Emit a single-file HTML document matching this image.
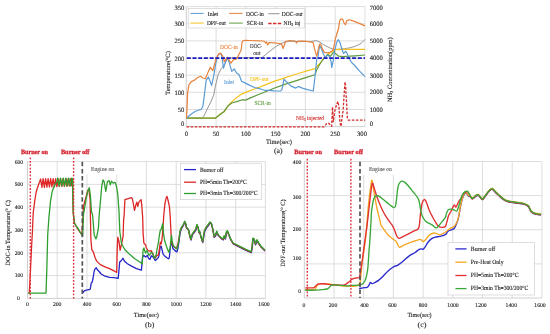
<!DOCTYPE html>
<html><head><meta charset="utf-8"><style>
html,body{margin:0;padding:0;background:#fff;}
svg{display:block;}
text{font-family:"Liberation Serif","Times New Roman",serif;text-rendering:geometricPrecision;stroke-width:0.12px;paint-order:stroke;}
text[font-weight=bold]{stroke-width:0.3px;}
</style></head><body>
<svg width="550" height="334" viewBox="0 0 550 334">
<rect width="550" height="334" fill="#fff"/>
<line x1="186.3" y1="109.5" x2="365.0" y2="109.5" stroke="#d0d0d0" stroke-width="0.7"/>
<line x1="186.3" y1="92.3" x2="365.0" y2="92.3" stroke="#d0d0d0" stroke-width="0.7"/>
<line x1="186.3" y1="75.2" x2="365.0" y2="75.2" stroke="#d0d0d0" stroke-width="0.7"/>
<line x1="186.3" y1="58.0" x2="365.0" y2="58.0" stroke="#d0d0d0" stroke-width="0.7"/>
<line x1="186.3" y1="40.9" x2="365.0" y2="40.9" stroke="#d0d0d0" stroke-width="0.7"/>
<line x1="186.3" y1="23.7" x2="365.0" y2="23.7" stroke="#d0d0d0" stroke-width="0.7"/>
<line x1="186.3" y1="6.6" x2="365.0" y2="6.6" stroke="#d0d0d0" stroke-width="0.7"/>
<line x1="216.1" y1="6.6" x2="216.1" y2="126.6" stroke="#d0d0d0" stroke-width="0.7"/>
<line x1="245.9" y1="6.6" x2="245.9" y2="126.6" stroke="#d0d0d0" stroke-width="0.7"/>
<line x1="275.6" y1="6.6" x2="275.6" y2="126.6" stroke="#d0d0d0" stroke-width="0.7"/>
<line x1="305.4" y1="6.6" x2="305.4" y2="126.6" stroke="#d0d0d0" stroke-width="0.7"/>
<line x1="335.2" y1="6.6" x2="335.2" y2="126.6" stroke="#d0d0d0" stroke-width="0.7"/>
<line x1="365.0" y1="6.6" x2="365.0" y2="126.6" stroke="#d0d0d0" stroke-width="0.7"/>
<line x1="186.3" y1="6.6" x2="186.3" y2="126.6" stroke="#c4c4c4" stroke-width="0.8"/>
<line x1="186.3" y1="126.6" x2="365.0" y2="126.6" stroke="#c4c4c4" stroke-width="0.8"/>
<text x="184.4" y="126.15" font-size="6.6" fill="#222" stroke="#222" text-anchor="end">0</text>
<text x="184.4" y="112.05" font-size="6.6" fill="#222" stroke="#222" text-anchor="end">50</text>
<text x="184.4" y="94.95" font-size="6.6" fill="#222" stroke="#222" text-anchor="end">100</text>
<text x="184.4" y="78.15" font-size="6.6" fill="#222" stroke="#222" text-anchor="end">150</text>
<text x="184.4" y="60.95" font-size="6.6" fill="#222" stroke="#222" text-anchor="end">200</text>
<text x="184.4" y="43.15" font-size="6.6" fill="#222" stroke="#222" text-anchor="end">250</text>
<text x="184.4" y="25.95" font-size="6.6" fill="#222" stroke="#222" text-anchor="end">300</text>
<text x="184.4" y="10.15" font-size="6.6" fill="#222" stroke="#222" text-anchor="end">350</text>
<text x="369.7" y="10.15" font-size="6.6" fill="#222" stroke="#222" text-anchor="start">7000</text>
<text x="369.7" y="25.55" font-size="6.6" fill="#222" stroke="#222" text-anchor="start">6000</text>
<text x="369.7" y="42.85" font-size="6.6" fill="#222" stroke="#222" text-anchor="start">5000</text>
<text x="369.7" y="60.15" font-size="6.6" fill="#222" stroke="#222" text-anchor="start">4000</text>
<text x="369.7" y="77.55" font-size="6.6" fill="#222" stroke="#222" text-anchor="start">3000</text>
<text x="369.7" y="93.75" font-size="6.6" fill="#222" stroke="#222" text-anchor="start">2000</text>
<text x="369.7" y="111.75" font-size="6.6" fill="#222" stroke="#222" text-anchor="start">1000</text>
<text x="369.7" y="125.75" font-size="6.6" fill="#222" stroke="#222" text-anchor="start">0</text>
<text x="186.3" y="136.0" font-size="6.6" fill="#222" stroke="#222" text-anchor="middle">0</text>
<text x="216.1" y="136.0" font-size="6.6" fill="#222" stroke="#222" text-anchor="middle">50</text>
<text x="245.9" y="136.0" font-size="6.6" fill="#222" stroke="#222" text-anchor="middle">100</text>
<text x="275.6" y="136.0" font-size="6.6" fill="#222" stroke="#222" text-anchor="middle">150</text>
<text x="305.4" y="136.0" font-size="6.6" fill="#222" stroke="#222" text-anchor="middle">200</text>
<text x="335.2" y="136.0" font-size="6.6" fill="#222" stroke="#222" text-anchor="middle">250</text>
<text x="362.0" y="136.0" font-size="6.6" fill="#222" stroke="#222" text-anchor="middle">300</text>
<text x="266.1" y="143.5" font-size="6.8" fill="#222" stroke="#222" text-anchor="start" textLength="25.8" lengthAdjust="spacingAndGlyphs">Time(sec)</text>
<text x="274.0" y="152.6" font-size="7.4" fill="#222" stroke="#222" text-anchor="start" textLength="8.6" lengthAdjust="spacingAndGlyphs">(a)</text>
<text x="0" y="0" font-size="6.45" fill="#222" stroke="#222" text-anchor="start" textLength="43.6" lengthAdjust="spacingAndGlyphs" transform="translate(170.0,94.8) rotate(-90)">Temperature(°C)</text>
<text x="0" y="0" font-size="6.45" fill="#222" stroke="#222" textLength="64.8" lengthAdjust="spacingAndGlyphs" transform="translate(391.6,102.1) rotate(-90)">NH<tspan font-size="4.5" dy="1.3">3</tspan><tspan dy="-1.3"> Concentration(ppm)</tspan></text>
<polyline points="186.5,118.2 201.5,117.9 203.6,116.6 205.2,113.5 206.9,109.8 209.0,105.5 211.0,101.7 213.7,95.0 215.0,88.0 216.1,83.3 218.0,75.0 221.0,69.0 224.0,65.0 227.0,59.5 228.5,58.2 230.9,58.0 262.0,57.5 266.2,54.1 270.0,51.0 276.0,46.5 280.0,44.0 285.0,42.0 290.0,41.2 299.1,41.6 310.8,41.5 316.6,40.6 320.0,42.3 324.2,45.1 329.2,47.6 333.4,49.2 337.5,49.3 344.2,48.8 350.9,47.6 355.9,46.0 361.0,43.5 365.0,39.3" fill="none" stroke="#8c8c8c" stroke-width="0.9" stroke-linejoin="round" stroke-linecap="butt"/>
<polyline points="186.5,118.2 215.7,118.1 220.4,113.8 224.4,111.8 227.1,107.4 230.8,102.7 236.2,97.9 241.6,94.1 248.0,91.4 254.5,89.0 261.0,86.6 267.5,83.9 274.0,81.4 284.0,78.1 294.1,74.7 304.1,71.7 315.0,68.7 318.3,65.0 320.2,63.3 323.4,58.9 327.8,54.5 332.2,51.3 335.4,49.6 344.2,49.4 365.0,49.4" fill="none" stroke="#f5c21b" stroke-width="1.2" stroke-linejoin="round" stroke-linecap="butt"/>
<polyline points="186.5,118.2 215.3,118.2 220.2,114.5 224.3,111.2 227.6,106.3 231.7,103.0 238.3,101.1 242.4,99.7 245.7,100.1 249.8,98.1 258.0,94.8 266.2,91.5 274.0,88.2 284.0,84.6 294.1,81.4 304.1,78.1 315.0,74.7 316.6,70.0 320.8,62.5 324.5,57.8 327.8,54.5 330.5,56.2 333.8,51.8 336.0,54.0 338.7,56.2 343.1,56.7 349.6,56.2 355.1,55.8 365.0,55.0" fill="none" stroke="#5e9a3e" stroke-width="1.2" stroke-linejoin="round" stroke-linecap="butt"/>
<polyline points="186.5,118.2 190.6,114.5 195.5,111.2 201.3,109.3 202.9,106.3 204.6,93.2 206.2,80.4 208.3,77.1 209.5,79.6 211.6,85.4 213.6,76.3 216.0,62.3 217.7,55.8 219.4,53.6 221.5,54.1 223.5,68.1 225.1,63.2 227.1,57.4 229.2,62.3 231.7,71.4 234.2,68.9 236.6,73.0 239.1,74.7 241.6,81.2 244.9,82.9 249.8,85.4 254.7,87.5 259.7,88.7 264.6,90.3 269.5,90.3 274.0,90.8 280.7,91.0 282.0,89.3 284.0,79.2 286.5,81.8 290.7,85.9 295.7,88.1 298.2,86.4 302.4,88.1 307.4,89.6 313.3,91.0 315.0,76.7 316.6,60.0 318.0,56.2 319.6,45.3 321.3,48.5 323.4,54.0 325.1,57.3 327.8,55.1 329.4,56.7 331.1,61.6 331.7,67.5 333.4,60.0 334.4,51.8 336.5,43.1 338.2,39.6 339.8,42.0 342.0,49.6 343.6,53.4 345.8,51.3 346.9,52.9 349.1,58.4 351.8,62.7 354.3,65.0 359.3,70.9 364.3,75.9 365.0,76.5" fill="none" stroke="#5b9bd5" stroke-width="1.2" stroke-linejoin="round" stroke-linecap="butt"/>
<polyline points="186.5,118.2 187.0,109.6 187.6,93.2 188.9,84.9 191.4,81.6 194.7,80.0 197.0,78.0 200.4,76.3 202.9,78.0 205.4,78.8 207.0,74.7 210.3,67.3 212.8,70.6 216.0,59.0 218.5,54.1 220.5,53.0 222.7,55.8 224.3,61.5 227.6,57.4 230.9,63.2 233.3,59.9 236.6,59.0 239.1,54.1 241.2,50.0 241.9,43.0 243.0,40.8 244.6,40.3 250.0,40.5 263.0,41.0 264.5,41.5 265.5,43.0 266.5,42.0 267.8,45.0 269.0,42.5 274.0,42.8 280.0,43.5 282.0,45.0 283.0,48.5 284.0,46.0 285.5,41.5 290.0,40.5 295.0,41.0 296.5,43.0 298.0,41.0 305.0,41.2 313.1,42.5 314.2,47.4 315.8,53.4 316.9,56.2 318.2,49.6 319.6,44.2 320.7,44.2 322.4,49.1 324.5,52.4 327.8,52.9 331.1,51.8 333.3,49.6 334.4,44.2 335.4,38.7 337.1,33.3 338.7,28.0 339.5,21.5 340.6,19.2 342.6,19.2 344.2,23.4 345.6,24.7 346.7,20.9 349.3,19.7 354.3,21.4 359.3,23.4 365.0,25.9" fill="none" stroke="#e8823a" stroke-width="1.2" stroke-linejoin="round" stroke-linecap="butt"/>
<polyline points="186.5,126.9 324.0,126.9 325.0,125.6 327.0,123.2 328.6,123.2 330.1,124.8 331.7,126.4 332.5,106.9 333.3,121.7 334.8,110.8 336.4,105.3 337.9,101.4 339.0,107.6 340.0,123.2 341.1,126.4 341.8,119.3 343.1,110.8 344.2,93.6 345.0,81.9 345.7,87.4 346.5,101.4 347.3,117.8 348.1,120.1 365.2,120.1" fill="none" stroke="#d42a2a" stroke-width="1.3" stroke-dasharray="2.6,1.5" stroke-linejoin="round" stroke-linecap="butt"/>
<line x1="186.8" y1="58.2" x2="365.0" y2="58.2" stroke="#1c1cc0" stroke-width="1.8" stroke-dasharray="4,1.7"/>
<text x="220" y="48.6" font-size="6.2" fill="#e8823a" stroke="#e8823a" text-anchor="start" textLength="17.7" lengthAdjust="spacingAndGlyphs">DOC-in</text>
<text x="250" y="48.4" font-size="6.2" fill="#333" stroke="#333" text-anchor="start" textLength="12.3" lengthAdjust="spacingAndGlyphs">DOC-</text>
<text x="253.2" y="54.8" font-size="6.2" fill="#333" stroke="#333" text-anchor="start" textLength="7.3" lengthAdjust="spacingAndGlyphs">out</text>
<text x="224.1" y="84.0" font-size="6.2" fill="#5b9bd5" stroke="#5b9bd5" text-anchor="start" textLength="9.9" lengthAdjust="spacingAndGlyphs">Inlet</text>
<text x="250" y="81.3" font-size="6.2" fill="#f5c21b" stroke="#f5c21b" text-anchor="start" textLength="18.5" lengthAdjust="spacingAndGlyphs">DPF-out</text>
<text x="254.5" y="105.4" font-size="6.2" fill="#5e9a3e" stroke="#5e9a3e" text-anchor="start" textLength="16.2" lengthAdjust="spacingAndGlyphs">SCR-in</text>
<text x="296" y="120.2" font-size="6.2" fill="#d42a2a" stroke="#d42a2a" textLength="28" lengthAdjust="spacingAndGlyphs">NH<tspan font-size="4.4" dy="1.2">3</tspan><tspan dy="-1.2"> injected</tspan></text>
<rect x="188.2" y="8.4" width="116.0" height="19.6" fill="#fff" stroke="#c8c8c8" stroke-width="0.6"/>
<line x1="190.4" y1="13.4" x2="203.7" y2="13.4" stroke="#5b9bd5" stroke-width="1.0"/>
<text x="207.8" y="15.6" font-size="6.2" fill="#222" stroke="#222" text-anchor="start" textLength="10.4" lengthAdjust="spacingAndGlyphs">Inlet</text>
<line x1="229.1" y1="13.4" x2="242.7" y2="13.4" stroke="#e8823a" stroke-width="1.0"/>
<text x="246" y="15.6" font-size="6.2" fill="#222" stroke="#222" text-anchor="start" textLength="17.7" lengthAdjust="spacingAndGlyphs">DOC-in</text>
<line x1="268.2" y1="13.7" x2="279.5" y2="13.7" stroke="#666" stroke-width="0.7"/>
<text x="281.8" y="15.6" font-size="6.2" fill="#222" stroke="#222" text-anchor="start" textLength="20.8" lengthAdjust="spacingAndGlyphs">DOC-out</text>
<line x1="190.4" y1="23.1" x2="203.7" y2="23.1" stroke="#f5c21b" stroke-width="1.0"/>
<text x="206.9" y="25.1" font-size="6.2" fill="#222" stroke="#222" text-anchor="start" textLength="18.9" lengthAdjust="spacingAndGlyphs">DPF-out</text>
<line x1="229.1" y1="23.1" x2="242.7" y2="23.1" stroke="#5e9a3e" stroke-width="1.0"/>
<text x="246.8" y="24.8" font-size="6.2" fill="#222" stroke="#222" text-anchor="start" textLength="16.4" lengthAdjust="spacingAndGlyphs">SCR-in</text>
<line x1="268.2" y1="23.5" x2="281.2" y2="23.5" stroke="#d42a2a" stroke-width="1.3" stroke-dasharray="3.4,1.4"/>
<text x="283.5" y="24.8" font-size="6.2" fill="#222" stroke="#222" textLength="16.9" lengthAdjust="spacingAndGlyphs">NH<tspan font-size="4.4" dy="1.2">3</tspan><tspan dy="-1.2"> inj</tspan></text>
<line x1="27.5" y1="275.6" x2="265.4" y2="275.6" stroke="#d0d0d0" stroke-width="0.7"/>
<line x1="27.5" y1="252.8" x2="265.4" y2="252.8" stroke="#d0d0d0" stroke-width="0.7"/>
<line x1="27.5" y1="230.0" x2="265.4" y2="230.0" stroke="#d0d0d0" stroke-width="0.7"/>
<line x1="27.5" y1="207.2" x2="265.4" y2="207.2" stroke="#d0d0d0" stroke-width="0.7"/>
<line x1="27.5" y1="184.4" x2="265.4" y2="184.4" stroke="#d0d0d0" stroke-width="0.7"/>
<line x1="27.5" y1="161.6" x2="265.4" y2="161.6" stroke="#d0d0d0" stroke-width="0.7"/>
<line x1="57.2" y1="161.6" x2="57.2" y2="298.4" stroke="#d0d0d0" stroke-width="0.7"/>
<line x1="87.0" y1="161.6" x2="87.0" y2="298.4" stroke="#d0d0d0" stroke-width="0.7"/>
<line x1="116.7" y1="161.6" x2="116.7" y2="298.4" stroke="#d0d0d0" stroke-width="0.7"/>
<line x1="146.4" y1="161.6" x2="146.4" y2="298.4" stroke="#d0d0d0" stroke-width="0.7"/>
<line x1="176.2" y1="161.6" x2="176.2" y2="298.4" stroke="#d0d0d0" stroke-width="0.7"/>
<line x1="205.9" y1="161.6" x2="205.9" y2="298.4" stroke="#d0d0d0" stroke-width="0.7"/>
<line x1="235.7" y1="161.6" x2="235.7" y2="298.4" stroke="#d0d0d0" stroke-width="0.7"/>
<line x1="265.4" y1="161.6" x2="265.4" y2="298.4" stroke="#d0d0d0" stroke-width="0.7"/>
<line x1="27.5" y1="161.6" x2="27.5" y2="298.4" stroke="#c4c4c4" stroke-width="0.8"/>
<line x1="27.5" y1="298.4" x2="265.4" y2="298.4" stroke="#c4c4c4" stroke-width="0.8"/>
<text x="23.2" y="277.4" font-size="5.7" fill="#222" stroke="#222" text-anchor="end">100</text>
<text x="23.2" y="254.9" font-size="5.7" fill="#222" stroke="#222" text-anchor="end">200</text>
<text x="23.2" y="232.0" font-size="5.7" fill="#222" stroke="#222" text-anchor="end">300</text>
<text x="23.2" y="209.0" font-size="5.7" fill="#222" stroke="#222" text-anchor="end">400</text>
<text x="23.2" y="186.4" font-size="5.7" fill="#222" stroke="#222" text-anchor="end">500</text>
<text x="23.2" y="164.4" font-size="5.7" fill="#222" stroke="#222" text-anchor="end">600</text>
<text x="18.5" y="300.2" font-size="5.7" fill="#222" stroke="#222" text-anchor="middle">0</text>
<text x="27.5" y="306.2" font-size="5.7" fill="#222" stroke="#222" text-anchor="middle">0</text>
<text x="57.2" y="306.2" font-size="5.7" fill="#222" stroke="#222" text-anchor="middle">200</text>
<text x="87.0" y="306.2" font-size="5.7" fill="#222" stroke="#222" text-anchor="middle">400</text>
<text x="116.7" y="306.2" font-size="5.7" fill="#222" stroke="#222" text-anchor="middle">600</text>
<text x="146.4" y="306.2" font-size="5.7" fill="#222" stroke="#222" text-anchor="middle">800</text>
<text x="176.2" y="306.2" font-size="5.7" fill="#222" stroke="#222" text-anchor="middle">1000</text>
<text x="205.9" y="306.2" font-size="5.7" fill="#222" stroke="#222" text-anchor="middle">1200</text>
<text x="235.7" y="306.2" font-size="5.7" fill="#222" stroke="#222" text-anchor="middle">1400</text>
<text x="264.0" y="306.2" font-size="5.7" fill="#222" stroke="#222" text-anchor="middle">1600</text>
<text x="133.8" y="316.5" font-size="6.4" fill="#222" stroke="#222" text-anchor="start" textLength="25.1" lengthAdjust="spacingAndGlyphs">Time(sec)</text>
<text x="145.1" y="327.2" font-size="7.3" fill="#222" stroke="#222" text-anchor="start" textLength="9.2" lengthAdjust="spacingAndGlyphs">(b)</text>
<text x="0" y="0" font-size="6.4" fill="#222" stroke="#222" text-anchor="start" textLength="65.5" lengthAdjust="spacingAndGlyphs" transform="translate(9.8,265.6) rotate(-90)">DOC-in Temperature(° C)</text>
<rect x="86" y="162.0" width="31.8" height="12.6" fill="#fff"/>
<text x="91" y="170.8" font-size="6.1" fill="#5a5a5a" stroke="#5a5a5a" text-anchor="start" textLength="23.1" lengthAdjust="spacingAndGlyphs">Engine on</text>
<polyline points="82.2,293.5 84.0,291.2 86.2,290.2 89.2,289.7 90.3,289.0 91.2,283.0 92.2,282.2 93.0,278.5 94.2,271.0 95.2,268.7 96.3,267.7 97.2,269.5 98.7,271.0 101.2,274.0 105.0,276.2 109.5,277.3 114.0,277.7 118.2,278.4 118.9,271.0 119.7,262.0 121.5,260.5 123.0,258.2 124.5,261.2 127.4,263.7 131.5,266.1 136.5,268.6 141.4,270.2 142.6,257.1 143.9,255.4 145.5,257.1 147.2,255.4 148.8,258.7 150.0,259.3 151.3,255.7 152.7,256.6 154.0,258.4 155.4,260.6 156.7,259.3 158.1,257.9 159.0,255.7 160.3,246.7 161.2,246.2 162.1,249.8 163.0,253.9 164.4,255.7 166.6,257.5 168.4,258.8 169.3,257.9 170.2,248.5 171.1,242.0 172.0,244.0 172.9,248.5 174.3,249.8 175.6,251.2 177.0,251.8 177.9,248.5 178.8,243.1 180.1,232.7 181.4,228.8 183.4,225.5 184.9,222.2 186.0,224.8 186.6,228.1 188.6,230.1 189.9,236.0 191.0,240.0 192.6,234.7 194.5,232.1 195.9,230.1 197.2,225.5 198.5,228.8 198.9,232.7 199.8,232.1 201.1,237.3 202.8,242.6 203.8,236.7 204.7,231.4 206.4,228.1 208.4,225.5 210.3,222.9 211.6,224.2 213.0,230.1 214.3,237.3 215.6,236.0 216.9,232.1 218.2,235.4 219.3,236.6 221.8,239.1 223.4,239.9 224.3,236.6 225.4,239.1 226.7,232.5 227.6,231.7 229.2,235.8 230.9,239.9 233.3,244.0 236.6,245.7 241.6,248.1 246.5,250.6 251.4,252.6 252.3,247.3 253.1,239.1 254.4,239.9 255.6,244.8 257.2,240.7 258.9,244.0 261.3,247.3 263.8,249.8 265.1,251.1" fill="none" stroke="#2424c8" stroke-width="1.3" stroke-linejoin="round" stroke-linecap="butt"/>
<polyline points="28.2,293.2 29.3,293.0 30.5,270.0 31.5,248.0 32.4,232.0 33.2,213.0 34.9,199.8 36.2,192.0 37.4,188.0 38.6,184.5 39.8,181.5 40.6,179.0 41.9,187.4 43.1,178.6 44.4,187.3 45.6,178.6 46.9,187.2 48.1,178.6 49.4,187.0 50.6,178.6 51.9,186.9 53.1,178.6 54.4,186.8 55.6,178.6 56.9,186.7 58.1,178.6 59.4,186.5 60.6,178.6 61.9,186.4 63.1,178.6 64.3,186.3 65.6,178.6 66.8,186.2 68.1,178.6 69.3,186.0 70.6,178.6 71.8,185.9 73.1,178.6 72.6,182.0 73.3,213.0 74.4,222.8 76.1,226.1 77.7,228.8 80.2,232.3 81.9,234.5 82.7,222.0 83.5,206.2 86.0,197.2 87.7,190.6 88.8,189.0 90.1,199.7 90.9,239.7 91.8,249.6 93.4,252.1 95.1,257.8 96.7,261.1 100.0,264.4 104.9,266.9 109.5,268.7 115.5,271.7 116.7,272.5 117.2,250.0 117.8,237.2 119.0,241.4 120.1,250.4 121.4,244.7 123.1,236.4 123.6,220.0 124.1,216.2 124.9,199.7 127.4,198.9 131.5,197.7 132.4,198.9 133.2,203.0 134.5,210.4 135.7,205.5 136.8,202.2 137.8,206.3 138.9,202.2 140.1,200.5 141.1,199.7 141.7,204.7 142.7,217.8 143.1,233.2 143.9,243.1 145.5,244.7 146.4,248.0 148.0,250.5 150.0,251.2 151.3,250.7 152.7,253.9 154.0,256.6 155.4,257.9 156.7,255.7 158.1,255.2 159.0,252.1 160.3,242.2 161.2,244.0 162.1,238.6 162.8,230.0 163.7,216.2 164.8,204.7 166.1,198.1 167.0,196.4 168.1,200.5 169.4,206.3 170.3,218.0 171.1,235.0 172.0,244.0 173.4,246.2 175.2,247.6 176.5,248.5 177.9,244.0 178.8,239.5 179.9,232.2 181.2,228.3 183.2,225.0 184.7,221.7 185.8,224.3 186.4,227.6 188.4,229.6 189.7,235.5 190.8,239.5 192.4,234.2 194.3,231.6 195.7,229.6 197.0,225.0 198.3,228.3 198.7,232.2 199.6,231.6 200.9,236.8 202.6,242.1 203.6,236.2 204.5,230.9 206.2,227.6 208.2,225.0 210.1,222.4 211.4,223.7 212.8,229.6 214.1,236.8 215.4,235.5 216.7,231.6 218.0,234.9 219.1,236.1 221.6,238.6 223.2,239.4 224.1,236.1 225.2,238.6 226.5,232.0 227.4,231.2 229.0,235.3 230.7,239.4 233.1,243.5 236.4,245.2 241.4,247.6 246.3,250.1 251.2,252.1 252.1,246.8 252.9,238.6 254.2,239.4 255.4,244.3 257.0,240.2 258.7,243.5 261.1,246.8 263.6,249.3 264.9,250.6" fill="none" stroke="#dd2626" stroke-width="1.3" stroke-linejoin="round" stroke-linecap="butt"/>
<polyline points="28.2,293.2 46.0,293.2 46.8,270.0 47.7,235.0 48.9,217.9 50.5,201.4 52.2,191.5 54.7,184.9 57.1,181.6 57.6,178.2 59.0,186.0 60.4,178.2 61.8,186.0 63.2,178.2 64.6,186.0 66.0,178.2 67.4,186.0 68.8,178.2 70.2,186.0 71.6,178.2 73.0,186.0 72.3,178.5 72.5,182.0 73.2,213.0 74.4,222.8 76.1,226.1 77.7,227.8 80.2,232.3 81.9,234.8 82.7,236.0 83.5,214.0 84.4,209.5 86.0,199.7 87.7,191.4 89.3,187.8 90.5,196.4 91.4,211.2 92.6,215.0 94.2,234.8 95.9,238.9 96.7,237.2 98.4,228.2 99.2,215.0 100.3,203.0 101.7,186.5 103.0,179.9 104.1,181.5 105.8,191.4 107.4,181.5 109.1,180.7 110.2,184.8 111.5,181.2 113.2,183.2 115.2,182.4 116.5,186.5 117.8,194.7 119.0,211.2 119.8,231.5 121.4,243.0 122.5,245.5 124.9,249.7 129.9,254.6 134.8,258.7 139.8,262.0 142.2,263.7 143.1,249.7 143.9,248.0 145.5,253.0 147.2,250.5 148.8,255.4 150.0,254.3 151.3,252.5 152.7,253.0 154.0,257.5 154.9,258.4 156.3,253.9 157.2,248.5 158.5,241.7 159.4,235.0 160.4,229.9 161.1,229.7 162.7,223.6 163.5,233.4 164.7,240.8 165.7,244.0 167.5,249.4 168.9,252.1 170.2,247.6 171.1,237.7 171.6,235.5 172.0,240.4 173.4,245.8 175.2,247.6 177.0,248.9 178.3,244.0 179.2,238.6 179.9,231.7 181.2,227.8 183.2,224.5 184.7,221.2 185.8,223.8 186.4,227.1 188.4,229.1 189.7,235.0 190.8,239.0 192.4,233.7 194.3,231.1 195.7,229.1 197.0,224.5 198.3,227.8 198.7,231.7 199.6,231.1 200.9,236.3 202.6,241.6 203.6,235.7 204.5,230.4 206.2,227.1 208.2,224.5 210.1,221.9 211.4,223.2 212.8,229.1 214.1,236.3 215.4,235.0 216.7,231.1 218.0,234.4 219.1,235.6 221.6,238.1 223.2,238.9 224.1,235.6 225.2,238.1 226.5,231.5 227.4,230.7 229.0,234.8 230.7,238.9 233.1,243.0 236.4,244.7 241.4,247.1 246.3,249.6 251.2,251.6 252.1,246.3 252.9,238.1 254.2,238.9 255.4,243.8 257.0,239.7 258.7,243.0 261.1,246.3 263.6,248.8 264.9,250.1" fill="none" stroke="#2e9e2e" stroke-width="1.3" stroke-linejoin="round" stroke-linecap="butt"/>
<line x1="30.3" y1="157.5" x2="30.3" y2="298.4" stroke="#e0303f" stroke-width="1.4" stroke-dasharray="1.8,1.6"/>
<line x1="73.6" y1="157.5" x2="73.6" y2="298.4" stroke="#e0303f" stroke-width="1.4" stroke-dasharray="1.8,1.6"/>
<line x1="82.3" y1="161.8" x2="82.3" y2="298.4" stroke="#555" stroke-width="1.7" stroke-dasharray="4.5,2.6"/>
<text x="20.9" y="154.0" font-size="6.6" fill="#d42030" stroke="#d42030" text-anchor="start" font-weight="bold" textLength="27.1" lengthAdjust="spacingAndGlyphs">Burner on</text>
<text x="60.9" y="154.0" font-size="6.6" fill="#d42030" stroke="#d42030" text-anchor="start" font-weight="bold" textLength="28.6" lengthAdjust="spacingAndGlyphs">Burner off</text>
<rect x="180.4" y="163.2" width="81.0" height="36.5" fill="#fff" stroke="#c8c8c8" stroke-width="0.6"/>
<line x1="184" y1="169.6" x2="196" y2="169.6" stroke="#2424c8" stroke-width="1.3"/>
<text x="199.9" y="171.9" font-size="6.4" fill="#222" stroke="#222" text-anchor="start" textLength="23.6" lengthAdjust="spacingAndGlyphs">Burner off</text>
<line x1="184" y1="182.2" x2="196" y2="182.2" stroke="#dd2626" stroke-width="1.3"/>
<text x="199.9" y="184.0" font-size="6.4" fill="#222" stroke="#222" text-anchor="start" textLength="46.8" lengthAdjust="spacingAndGlyphs">PH=5min Th=200°C</text>
<line x1="184" y1="193.5" x2="196" y2="193.5" stroke="#2e9e2e" stroke-width="1.3"/>
<text x="199.9" y="195.3" font-size="6.4" fill="#222" stroke="#222" text-anchor="start" textLength="57.7" lengthAdjust="spacingAndGlyphs">PH=3min Th=300/200°C</text>
<line x1="304.3" y1="263.9" x2="541.9" y2="263.9" stroke="#d0d0d0" stroke-width="0.7"/>
<line x1="304.3" y1="229.8" x2="541.9" y2="229.8" stroke="#d0d0d0" stroke-width="0.7"/>
<line x1="304.3" y1="195.6" x2="541.9" y2="195.6" stroke="#d0d0d0" stroke-width="0.7"/>
<line x1="304.3" y1="161.5" x2="541.9" y2="161.5" stroke="#d0d0d0" stroke-width="0.7"/>
<line x1="334.0" y1="161.5" x2="334.0" y2="298.0" stroke="#d0d0d0" stroke-width="0.7"/>
<line x1="363.7" y1="161.5" x2="363.7" y2="298.0" stroke="#d0d0d0" stroke-width="0.7"/>
<line x1="393.4" y1="161.5" x2="393.4" y2="298.0" stroke="#d0d0d0" stroke-width="0.7"/>
<line x1="423.1" y1="161.5" x2="423.1" y2="298.0" stroke="#d0d0d0" stroke-width="0.7"/>
<line x1="452.8" y1="161.5" x2="452.8" y2="298.0" stroke="#d0d0d0" stroke-width="0.7"/>
<line x1="482.5" y1="161.5" x2="482.5" y2="298.0" stroke="#d0d0d0" stroke-width="0.7"/>
<line x1="512.2" y1="161.5" x2="512.2" y2="298.0" stroke="#d0d0d0" stroke-width="0.7"/>
<line x1="541.9" y1="161.5" x2="541.9" y2="298.0" stroke="#d0d0d0" stroke-width="0.7"/>
<line x1="304.3" y1="161.5" x2="304.3" y2="298.0" stroke="#c4c4c4" stroke-width="0.8"/>
<line x1="304.3" y1="298.0" x2="541.9" y2="298.0" stroke="#c4c4c4" stroke-width="0.8"/>
<text x="301.4" y="260.0" font-size="5.7" fill="#222" stroke="#222" text-anchor="end">100</text>
<text x="301.4" y="231.4" font-size="5.7" fill="#222" stroke="#222" text-anchor="end">200</text>
<text x="301.4" y="198.6" font-size="5.7" fill="#222" stroke="#222" text-anchor="end">300</text>
<text x="301.4" y="164.4" font-size="5.7" fill="#222" stroke="#222" text-anchor="end">400</text>
<text x="299.7" y="292.9" font-size="5.7" fill="#222" stroke="#222" text-anchor="middle">0</text>
<text x="304.0" y="307.1" font-size="5.7" fill="#222" stroke="#222" text-anchor="middle">0</text>
<text x="333.0" y="307.1" font-size="5.7" fill="#222" stroke="#222" text-anchor="middle">200</text>
<text x="364.4" y="307.1" font-size="5.7" fill="#222" stroke="#222" text-anchor="middle">400</text>
<text x="392.4" y="307.1" font-size="5.7" fill="#222" stroke="#222" text-anchor="middle">600</text>
<text x="423.0" y="307.1" font-size="5.7" fill="#222" stroke="#222" text-anchor="middle">800</text>
<text x="453.0" y="307.1" font-size="5.7" fill="#222" stroke="#222" text-anchor="middle">1000</text>
<text x="481.0" y="307.1" font-size="5.7" fill="#222" stroke="#222" text-anchor="middle">1200</text>
<text x="511.3" y="307.1" font-size="5.7" fill="#222" stroke="#222" text-anchor="middle">1400</text>
<text x="540.0" y="307.1" font-size="5.7" fill="#222" stroke="#222" text-anchor="middle">1600</text>
<text x="407.4" y="316.5" font-size="6.4" fill="#222" stroke="#222" text-anchor="start" textLength="24.2" lengthAdjust="spacingAndGlyphs">Time(sec)</text>
<text x="417.4" y="327.2" font-size="7.3" fill="#222" stroke="#222" text-anchor="start" textLength="9.2" lengthAdjust="spacingAndGlyphs">(c)</text>
<text x="0" y="0" font-size="6.4" fill="#222" stroke="#222" text-anchor="start" textLength="67.3" lengthAdjust="spacingAndGlyphs" transform="translate(285.0,266.7) rotate(-90)">DPF-out Temperature(° C)</text>
<rect x="362.4" y="162.0" width="32.4" height="12.8" fill="#fff"/>
<text x="368.9" y="170.9" font-size="6.1" fill="#5a5a5a" stroke="#5a5a5a" text-anchor="start" textLength="22.9" lengthAdjust="spacingAndGlyphs">Engine on</text>
<path d="M359.1,288.5 C359.8,288.4 361.6,288.0 363.0,287.8 C364.4,287.6 366.2,287.8 367.2,287.3 C368.2,286.9 368.5,285.9 369.0,285.1 C369.5,284.3 369.9,282.7 370.4,282.5 C370.9,282.3 371.4,283.6 372.0,283.7 C372.6,283.8 373.2,283.4 374.3,282.8 C375.4,282.2 377.0,281.5 378.5,280.4 C380.0,279.3 381.7,277.6 383.3,276.0 C384.9,274.4 386.5,272.5 388.1,271.0 C389.7,269.5 391.7,268.0 392.9,267.2 C394.1,266.4 394.7,266.3 395.5,266.0 C396.3,265.7 396.8,265.8 397.5,265.4 C398.2,265.0 399.2,264.2 400.0,263.6 C400.8,263.0 401.7,262.5 402.5,261.8 C403.3,261.1 403.7,260.7 404.9,259.6 C406.1,258.5 408.2,256.6 409.9,255.4 C411.5,254.2 413.3,253.7 414.8,252.7 C416.3,251.7 417.8,250.2 418.9,249.6 C420.0,248.9 420.7,248.9 421.4,248.8 C422.1,248.8 422.4,249.7 423.1,249.3 C423.8,248.9 424.7,247.5 425.5,246.3 C426.3,245.1 427.0,243.4 428.0,242.2 C429.0,241.0 430.1,239.7 431.3,238.9 C432.5,238.1 434.0,237.6 435.4,237.2 C436.8,236.8 438.3,236.7 439.5,236.4 C440.7,236.1 441.7,236.0 442.8,235.6 C443.9,235.2 445.3,234.6 446.1,233.9 C446.9,233.2 447.1,232.1 447.8,231.5 C448.5,230.9 449.4,230.5 450.2,230.2 C451.0,229.8 451.8,229.8 452.5,229.4 C453.2,229.0 453.9,228.9 454.6,227.8 C455.3,226.7 456.2,224.6 456.9,222.8 C457.6,221.0 458.1,219.3 458.6,217.1 C459.1,214.9 459.5,212.0 459.9,209.7 C460.3,207.4 460.7,205.2 461.2,203.1 C461.7,201.0 462.3,198.9 462.9,197.3 C463.5,195.7 464.2,194.2 464.8,193.5 C465.4,192.8 465.9,192.8 466.5,193.2 C467.1,193.6 467.4,195.1 468.1,195.7 C468.8,196.3 469.9,196.5 470.6,197.0 C471.3,197.5 471.6,198.3 472.2,198.5 C472.8,198.7 473.2,198.4 473.9,197.9 C474.6,197.4 475.7,196.2 476.4,195.8 C477.1,195.4 477.7,195.2 478.3,195.4 C478.9,195.6 479.5,196.6 480.0,197.1 C480.5,197.6 480.8,198.3 481.3,198.7 C481.8,199.1 482.3,199.8 482.9,199.5 C483.4,199.2 483.9,198.1 484.6,197.1 C485.3,196.1 486.3,194.8 487.1,193.8 C487.9,192.7 488.7,191.6 489.5,190.8 C490.3,190.0 491.3,189.2 492.0,189.2 C492.7,189.1 493.0,189.9 493.7,190.5 C494.4,191.1 495.3,192.2 496.1,193.0 C496.9,193.8 497.2,194.2 498.3,195.1 C499.4,196.0 501.0,197.7 502.4,198.7 C503.8,199.7 505.0,200.6 506.5,201.2 C508.0,201.8 509.6,201.9 511.5,202.3 C513.4,202.6 516.1,203.0 518.1,203.3 C520.1,203.6 522.1,203.7 523.8,204.2 C525.4,204.7 527.0,205.4 528.0,206.1 C529.0,206.8 529.1,207.6 529.6,208.6 C530.1,209.6 530.5,211.1 531.2,211.9 C531.9,212.7 532.7,213.1 533.7,213.5 C534.7,213.9 535.8,214.2 537.0,214.4 C538.2,214.6 540.4,214.8 541.1,214.9" fill="none" stroke="#2b2bcc" stroke-width="1.35" stroke-linejoin="round"/>
<path d="M305.2,289.7 C306.7,289.7 312.4,289.9 314.2,289.7 C315.9,289.4 315.2,288.9 315.7,288.2 C316.2,287.4 316.6,285.9 317.2,285.2 C317.8,284.4 318.1,283.9 319.5,283.7 C320.9,283.4 323.5,283.6 325.5,283.7 C327.5,283.8 329.5,284.2 331.5,284.5 C333.5,284.8 335.5,284.9 337.5,285.2 C339.5,285.4 341.5,285.9 343.5,286.0 C345.5,286.1 348.1,286.1 349.5,286.1 C350.9,286.2 350.9,286.4 352.2,286.3 C353.4,286.2 355.7,286.3 357.0,285.7 C358.3,285.1 359.3,285.1 360.0,282.8 C360.7,280.5 360.9,275.2 361.2,272.0 C361.5,268.8 361.5,267.3 362.0,263.6 C362.5,259.9 363.3,254.8 364.0,250.0 C364.7,245.2 365.3,241.7 366.0,235.0 C366.7,228.3 367.4,216.7 368.0,210.0 C368.6,203.3 369.1,199.2 369.6,194.7 C370.1,190.2 370.8,185.4 371.2,183.0 C371.6,180.6 371.6,179.7 371.9,180.2 C372.2,180.7 372.5,183.3 373.0,186.0 C373.5,188.7 374.0,192.5 374.7,196.4 C375.4,200.3 376.4,205.7 377.2,209.5 C378.0,213.3 379.1,216.8 379.7,219.4 C380.3,222.0 380.4,223.5 381.0,225.0 C381.6,226.5 381.9,226.6 383.0,228.2 C384.1,229.8 386.3,233.0 387.9,234.8 C389.5,236.6 391.4,237.8 392.8,238.9 C394.2,240.0 395.3,240.4 396.1,241.4 C396.9,242.4 397.2,243.7 397.8,244.7 C398.4,245.7 398.6,247.0 399.4,247.2 C400.2,247.4 401.8,246.2 402.7,245.8 C403.6,245.4 403.7,245.2 404.9,244.7 C406.1,244.2 408.2,243.3 409.9,242.7 C411.5,242.1 413.1,241.6 414.8,241.0 C416.5,240.4 418.7,239.6 419.8,239.4 C420.9,239.2 420.8,239.6 421.4,240.0 C421.9,240.4 422.4,241.8 423.1,241.7 C423.8,241.6 424.7,240.6 425.5,239.7 C426.3,238.8 427.0,237.4 428.0,236.4 C429.0,235.4 430.1,234.5 431.3,233.9 C432.5,233.3 434.0,232.9 435.4,233.1 C436.8,233.2 438.3,234.7 439.5,234.8 C440.7,234.9 441.7,234.0 442.8,233.5 C443.9,233.0 445.1,232.5 446.1,231.8 C447.1,231.1 447.6,230.2 448.6,229.5 C449.6,228.8 451.0,227.9 451.9,227.4 C452.8,226.9 453.2,227.3 454.0,226.5 C454.8,225.7 456.1,224.0 456.9,222.3 C457.7,220.6 458.1,218.7 458.6,216.5 C459.1,214.3 459.5,211.5 459.9,209.2 C460.3,206.9 460.7,204.7 461.2,202.6 C461.7,200.5 462.3,198.4 462.9,196.8 C463.5,195.2 464.2,193.7 464.8,193.0 C465.4,192.3 465.9,192.3 466.5,192.7 C467.1,193.1 467.4,194.6 468.1,195.2 C468.8,195.8 469.9,196.0 470.6,196.5 C471.3,197.0 471.6,197.9 472.2,198.0 C472.8,198.1 473.2,197.5 473.9,197.0 C474.6,196.5 475.7,195.3 476.4,194.9 C477.1,194.5 477.7,194.3 478.3,194.5 C478.9,194.7 479.5,195.6 480.0,196.2 C480.5,196.8 480.8,197.4 481.3,197.8 C481.8,198.2 482.3,198.9 482.9,198.6 C483.4,198.3 483.9,197.1 484.6,196.2 C485.3,195.2 486.3,193.9 487.1,192.9 C487.9,191.8 488.7,190.7 489.5,189.9 C490.3,189.1 491.3,188.3 492.0,188.3 C492.7,188.2 493.0,189.0 493.7,189.6 C494.4,190.2 495.3,191.3 496.1,192.1 C496.9,192.9 497.2,193.2 498.3,194.2 C499.4,195.1 501.0,196.8 502.4,197.8 C503.8,198.8 505.0,199.7 506.5,200.3 C508.0,200.9 509.6,201.0 511.5,201.4 C513.4,201.7 516.1,202.1 518.1,202.4 C520.1,202.7 522.1,202.8 523.8,203.3 C525.4,203.8 527.0,204.5 528.0,205.2 C529.0,205.9 529.1,206.7 529.6,207.7 C530.1,208.7 530.5,210.2 531.2,211.0 C531.9,211.8 532.7,212.2 533.7,212.6 C534.7,213.0 535.8,213.3 537.0,213.5 C538.2,213.7 540.4,213.9 541.1,214.0" fill="none" stroke="#f5a623" stroke-width="1.35" stroke-linejoin="round"/>
<path d="M305.2,287.8 C306.6,287.8 311.8,288.1 313.5,287.8 C315.2,287.5 314.9,286.6 315.7,286.0 C316.4,285.4 316.9,284.6 318.0,284.2 C319.1,283.8 321.0,283.7 322.5,283.7 C324.0,283.7 325.5,284.0 327.0,284.2 C328.5,284.4 330.0,284.7 331.5,284.8 C333.0,284.9 334.2,284.7 336.0,284.8 C337.8,284.9 340.5,285.2 342.0,285.2 C343.5,285.2 343.9,285.1 345.0,284.6 C346.1,284.1 347.4,283.1 348.6,282.2 C349.8,281.3 351.0,279.9 352.2,279.2 C353.4,278.5 354.6,278.3 355.8,278.0 C357.0,277.7 358.4,278.0 359.1,277.4 C359.8,276.8 359.6,276.1 360.0,274.4 C360.4,272.7 360.8,269.7 361.2,267.2 C361.6,264.7 361.8,263.8 362.4,259.5 C363.0,255.2 364.0,247.4 364.8,241.4 C365.6,235.4 366.5,230.0 367.3,223.3 C368.1,216.6 369.1,207.2 369.8,201.3 C370.5,195.4 370.9,191.1 371.4,188.1 C371.9,185.1 372.1,182.9 372.7,183.2 C373.2,183.5 373.8,187.1 374.7,189.8 C375.6,192.6 376.6,196.1 378.0,199.7 C379.4,203.3 381.4,207.9 383.0,211.2 C384.6,214.5 386.4,217.1 387.9,219.4 C389.4,221.7 390.9,223.2 392.0,224.9 C393.1,226.7 393.7,228.0 394.5,229.9 C395.3,231.8 396.3,235.1 397.0,236.5 C397.7,237.9 398.1,237.8 398.6,238.1 C399.1,238.4 398.9,238.5 400.0,238.1 C401.1,237.7 403.2,236.4 404.9,235.6 C406.5,234.8 408.2,233.9 409.9,233.1 C411.5,232.3 413.4,231.4 414.8,230.7 C416.2,230.0 417.3,230.0 418.1,229.0 C418.9,228.0 419.0,227.6 419.4,224.9 C419.8,222.2 420.1,216.5 420.6,212.8 C421.1,209.2 421.6,205.2 422.2,203.0 C422.8,200.8 423.3,200.1 423.9,199.7 C424.4,199.3 424.9,199.7 425.5,200.5 C426.1,201.3 426.5,202.8 427.2,204.6 C427.9,206.4 428.7,209.0 429.7,211.2 C430.7,213.4 432.1,216.0 433.0,217.8 C433.9,219.6 434.4,220.5 435.4,221.9 C436.3,223.3 437.6,225.6 438.7,226.5 C439.8,227.4 440.9,227.4 442.0,227.4 C443.1,227.4 444.5,227.5 445.3,226.5 C446.1,225.5 446.4,223.4 447.0,221.6 C447.6,219.8 447.9,217.2 448.6,215.5 C449.3,213.8 450.3,212.8 451.1,211.2 C451.9,209.6 452.9,207.2 453.5,206.2 C454.1,205.2 454.2,204.8 454.6,205.0 C455.0,205.2 455.4,207.1 455.8,207.2 C456.2,207.3 456.4,206.4 456.9,205.5 C457.3,204.6 458.0,202.9 458.5,202.0 C459.0,201.1 459.4,200.4 459.9,199.8 C460.3,199.2 460.8,199.2 461.2,198.5 C461.6,197.8 461.8,196.3 462.4,195.3 C463.0,194.3 464.0,193.0 464.8,192.4 C465.6,191.8 466.6,191.5 467.3,191.7 C468.0,191.9 468.3,192.8 468.9,193.7 C469.4,194.6 470.1,196.1 470.6,197.0 C471.2,197.9 471.6,198.9 472.2,199.0 C472.8,199.1 473.2,198.4 473.9,197.8 C474.6,197.2 475.7,196.1 476.4,195.7 C477.1,195.3 477.7,195.1 478.3,195.3 C478.9,195.5 479.5,196.4 480.0,197.0 C480.5,197.6 480.8,198.2 481.3,198.6 C481.8,199.0 482.3,199.7 482.9,199.4 C483.4,199.1 483.9,197.9 484.6,197.0 C485.3,196.1 486.3,194.8 487.1,193.7 C487.9,192.6 488.7,191.5 489.5,190.7 C490.3,189.9 491.3,189.1 492.0,189.1 C492.7,189.1 493.0,189.8 493.7,190.4 C494.4,191.0 495.3,192.1 496.1,192.9 C496.9,193.7 497.2,194.1 498.3,195.0 C499.4,195.9 501.0,197.6 502.4,198.6 C503.8,199.6 505.0,200.5 506.5,201.1 C508.0,201.7 509.6,201.8 511.5,202.2 C513.4,202.5 516.1,202.9 518.1,203.2 C520.1,203.5 522.1,203.6 523.8,204.1 C525.4,204.6 527.0,205.3 528.0,206.0 C529.0,206.7 529.1,207.5 529.6,208.5 C530.1,209.5 530.5,211.0 531.2,211.8 C531.9,212.6 532.7,213.0 533.7,213.4 C534.7,213.8 535.8,214.1 537.0,214.3 C538.2,214.5 540.4,214.7 541.1,214.8" fill="none" stroke="#e03030" stroke-width="1.35" stroke-linejoin="round"/>
<path d="M305.2,290.2 C306.8,290.2 312.4,290.3 315.0,290.2 C317.6,290.1 319.0,289.9 321.0,289.7 C323.0,289.5 325.6,289.4 327.0,289.0 C328.4,288.6 328.4,288.1 329.2,287.5 C329.9,286.9 330.6,285.6 331.5,285.2 C332.4,284.8 333.0,284.8 334.5,284.8 C336.0,284.8 338.5,285.2 340.5,285.4 C342.5,285.6 344.6,285.8 346.5,285.8 C348.4,285.8 350.1,285.5 352.2,285.4 C354.3,285.3 357.7,285.3 359.4,285.1 C361.1,284.9 361.5,284.7 362.4,284.0 C363.3,283.3 364.1,282.4 364.8,281.0 C365.5,279.6 366.1,277.7 366.6,275.6 C367.1,273.5 367.4,272.2 367.8,268.4 C368.2,264.6 368.6,257.5 368.9,253.0 C369.2,248.5 369.4,246.9 369.8,241.4 C370.2,235.9 370.8,224.8 371.1,220.0 C371.4,215.2 371.1,215.9 371.4,212.8 C371.7,209.7 372.6,203.9 373.1,201.3 C373.7,198.7 374.1,198.2 374.7,197.2 C375.3,196.2 375.9,195.6 376.7,195.5 C377.5,195.4 378.6,196.1 379.7,196.7 C380.8,197.3 381.8,198.3 383.0,199.3 C384.2,200.3 385.7,201.5 387.1,202.6 C388.5,203.7 390.0,205.1 391.2,205.9 C392.4,206.7 393.4,207.8 394.2,207.6 C395.0,207.4 395.2,207.8 395.8,204.6 C396.4,201.3 397.2,191.7 397.8,188.1 C398.4,184.5 398.7,184.3 399.4,183.2 C400.1,182.0 401.0,181.3 401.9,181.2 C402.8,181.1 403.8,181.7 404.9,182.4 C405.9,183.2 407.1,184.5 408.2,185.7 C409.3,186.9 410.4,188.4 411.5,189.8 C412.6,191.2 413.8,192.7 414.8,193.9 C415.8,195.1 416.6,196.1 417.3,197.2 C418.0,198.3 418.5,199.3 418.9,200.5 C419.3,201.7 419.5,203.1 419.8,204.6 C420.1,206.1 420.2,207.6 420.6,209.5 C421.0,211.4 421.5,214.3 422.2,216.1 C422.9,217.9 423.9,219.1 424.7,220.2 C425.5,221.2 426.0,221.6 427.2,222.4 C428.4,223.2 430.6,224.0 432.1,224.9 C433.6,225.8 435.1,227.8 436.2,227.9 C437.3,228.0 437.7,226.8 438.7,225.7 C439.7,224.6 440.9,223.0 442.0,221.6 C443.1,220.2 444.5,219.1 445.3,217.5 C446.1,215.9 446.4,213.3 447.0,212.0 C447.6,210.7 447.9,210.0 448.6,209.5 C449.3,209.0 450.5,209.2 451.1,209.2 C451.8,209.2 451.9,209.1 452.5,209.3 C453.1,209.5 454.2,210.2 454.9,210.5 C455.6,210.8 456.3,211.4 456.9,211.0 C457.4,210.6 457.8,209.3 458.2,208.0 C458.6,206.7 459.2,204.6 459.6,203.1 C460.0,201.6 460.2,200.3 460.7,198.9 C461.2,197.5 461.7,196.0 462.4,194.8 C463.1,193.6 464.0,192.5 464.8,191.9 C465.6,191.3 466.6,191.0 467.3,191.2 C468.0,191.4 468.3,192.3 468.9,193.2 C469.4,194.1 470.1,195.6 470.6,196.5 C471.2,197.4 471.6,198.4 472.2,198.5 C472.8,198.6 473.2,197.9 473.9,197.3 C474.6,196.8 475.7,195.6 476.4,195.2 C477.1,194.8 477.7,194.6 478.3,194.8 C478.9,195.0 479.5,195.9 480.0,196.5 C480.5,197.1 480.8,197.7 481.3,198.1 C481.8,198.5 482.3,199.2 482.9,198.9 C483.4,198.6 483.9,197.4 484.6,196.5 C485.3,195.6 486.3,194.2 487.1,193.2 C487.9,192.1 488.7,191.0 489.5,190.2 C490.3,189.4 491.3,188.6 492.0,188.6 C492.7,188.6 493.0,189.3 493.7,189.9 C494.4,190.5 495.3,191.6 496.1,192.4 C496.9,193.2 497.2,193.6 498.3,194.5 C499.4,195.4 501.0,197.1 502.4,198.1 C503.8,199.1 505.0,200.0 506.5,200.6 C508.0,201.2 509.6,201.3 511.5,201.7 C513.4,202.0 516.1,202.4 518.1,202.7 C520.1,203.0 522.1,203.1 523.8,203.6 C525.4,204.1 527.0,204.8 528.0,205.5 C529.0,206.2 529.1,207.0 529.6,208.0 C530.1,209.0 530.5,210.5 531.2,211.3 C531.9,212.1 532.7,212.5 533.7,212.9 C534.7,213.3 535.8,213.6 537.0,213.8 C538.2,214.0 540.4,214.2 541.1,214.3" fill="none" stroke="#3aa83a" stroke-width="1.35" stroke-linejoin="round"/>
<line x1="307.3" y1="158.8" x2="307.3" y2="298.0" stroke="#e0303f" stroke-width="1.4" stroke-dasharray="1.8,1.6"/>
<line x1="350.9" y1="158.8" x2="350.9" y2="298.0" stroke="#e0303f" stroke-width="1.4" stroke-dasharray="1.8,1.6"/>
<line x1="360.0" y1="161.8" x2="360.0" y2="298.0" stroke="#555" stroke-width="1.7" stroke-dasharray="4.5,2.6"/>
<text x="294.3" y="154.1" font-size="6.6" fill="#d42030" stroke="#d42030" text-anchor="start" font-weight="bold" textLength="27.6" lengthAdjust="spacingAndGlyphs">Burner on</text>
<text x="334.1" y="154.0" font-size="6.6" fill="#d42030" stroke="#d42030" text-anchor="start" font-weight="bold" textLength="28.8" lengthAdjust="spacingAndGlyphs">Burner off</text>
<rect x="448.0" y="242.4" width="86.4" height="52.6" fill="#fff" stroke="#c8c8c8" stroke-width="0.6"/>
<line x1="455.4" y1="248.9" x2="466.5" y2="248.9" stroke="#2b2bcc" stroke-width="1.3"/>
<text x="470.8" y="251.1" font-size="6.4" fill="#222" stroke="#222" text-anchor="start" textLength="24.4" lengthAdjust="spacingAndGlyphs">Burner off</text>
<line x1="455.4" y1="262.2" x2="466.5" y2="262.2" stroke="#f5a623" stroke-width="1.3"/>
<text x="470.8" y="264.0" font-size="6.4" fill="#222" stroke="#222" text-anchor="start" textLength="32.7" lengthAdjust="spacingAndGlyphs">Pre-Heat Only</text>
<line x1="455.4" y1="275.5" x2="466.5" y2="275.5" stroke="#e03030" stroke-width="1.3"/>
<text x="470.8" y="277.2" font-size="6.4" fill="#222" stroke="#222" text-anchor="start" textLength="47.7" lengthAdjust="spacingAndGlyphs">PH=5min Th=200°C</text>
<line x1="455.4" y1="288.6" x2="466.5" y2="288.6" stroke="#3aa83a" stroke-width="1.3"/>
<text x="470.8" y="289.7" font-size="6.4" fill="#222" stroke="#222" text-anchor="start" textLength="57.5" lengthAdjust="spacingAndGlyphs">PH=3min Th=300/200°C</text>
</svg>
</body></html>
